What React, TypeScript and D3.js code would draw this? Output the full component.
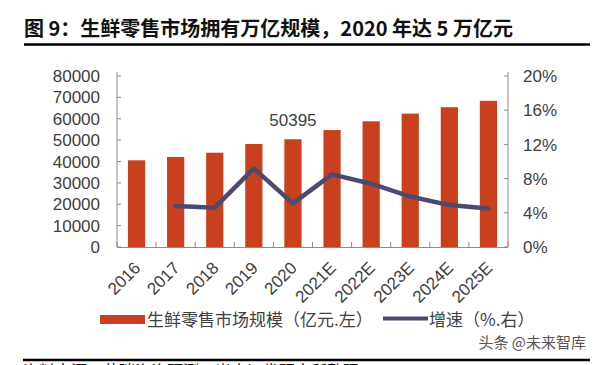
import React from 'react';
import * as d3 from 'd3';

const years = ['2016', '2017', '2018', '2019', '2020', '2021E', '2022E', '2023E', '2024E', '2025E'];
const marketSize = [40560, 42100, 44100, 48200, 50395, 54700, 58800, 62400, 65400, 68400];
const growthYears = ['2017', '2018', '2019', '2020', '2021E', '2022E', '2023E', '2024E', '2025E'];
const growth = [4.8, 4.6, 9.2, 5.1, 8.5, 7.4, 5.9, 4.9, 4.5];
const leftTicks = [0, 10000, 20000, 30000, 40000, 50000, 60000, 70000, 80000];
const rightTicks = [0, 4, 8, 12, 16, 20];

const BAR = '#c9401f';
const LINE = '#4b4b6f';
const AXIS = '#8c8c8c';
const TEXT = '#404040';
const NUM_FONT = '"Liberation Sans", Arial, sans-serif';
const CJK_FONT = '"Noto Sans CJK SC", "Noto Sans", sans-serif';

export default function App() {
  const width = 595;
  const height = 365;
  const plot = { left: 117, right: 508, top: 76, bottom: 247 };

  const x = d3.scaleBand<string>()
    .domain(years)
    .range([plot.left, plot.right])
    .paddingInner(0.56)
    .paddingOuter(0.28);
  const yL = d3.scaleLinear().domain([0, 80000]).range([plot.bottom, plot.top]);
  const yR = d3.scaleLinear().domain([0, 20]).range([plot.bottom, plot.top]);

  const cx = (c: string) => (x(c) ?? 0) + x.bandwidth() / 2;
  const line = d3.line<number>()
    .x((_, i) => cx(growthYears[i]))
    .y(d => yR(d));

  const step = x.step();
  const boundaries = d3.range(years.length + 1).map(i => plot.left + i * step);

  return (
    <svg width={width} height={height} style={{ position: 'absolute', left: 0, top: 0, background: '#fff' }}>
      {/* title */}
      <text x={24} y={36} fontFamily={CJK_FONT} fontWeight={700} fontSize={20} fill="#111">
        图 9：生鲜零售市场拥有万亿规模，2020 年达 5 万亿元
      </text>
      <line x1={24} x2={590} y1={44.5} y2={44.5} stroke="#000" strokeWidth={2.5} />

      {/* bars */}
      {marketSize.map((v, i) => (
        <rect key={years[i]} x={x(years[i])} y={yL(v)} width={x.bandwidth()}
          height={yL(0) - yL(v)} fill={BAR} />
      ))}
      <text x={cx('2020')} y={yL(50395) - 13} textAnchor="middle" fontFamily={NUM_FONT}
        fontSize={17} fill={TEXT}>50395</text>

      {/* growth line */}
      <path d={line(growth) ?? ''} fill="none" stroke={LINE} strokeWidth={4.5}
        strokeLinejoin="round" strokeLinecap="round" />

      {/* axes */}
      <g stroke={AXIS} strokeWidth={1} fill="none">
        <line x1={plot.left} x2={plot.left} y1={plot.top - 4} y2={plot.bottom} />
        <line x1={plot.right} x2={plot.right} y1={plot.top - 4} y2={plot.bottom} />
        <line x1={plot.left} x2={plot.right} y1={plot.bottom + 0.5} y2={plot.bottom + 0.5} />
        {leftTicks.map(t => (
          <line key={'l' + t} x1={plot.left} x2={plot.left + 4} y1={yL(t)} y2={yL(t)} />
        ))}
        {rightTicks.map(t => (
          <line key={'r' + t} x1={plot.right - 4} x2={plot.right} y1={yR(t)} y2={yR(t)} />
        ))}
        {boundaries.map((b, i) => (
          <line key={'b' + i} x1={b} x2={b} y1={plot.bottom - 5} y2={plot.bottom} />
        ))}
      </g>
      {leftTicks.map(t => (
        <text key={'lt' + t} x={plot.left - 17} y={yL(t)} dy="0.36em" textAnchor="end"
          fontFamily={NUM_FONT} fontSize={17} fill={TEXT}>{t}</text>
      ))}
      {rightTicks.map(t => (
        <text key={'rt' + t} x={plot.right + 15} y={yR(t)} dy="0.36em"
          fontFamily={NUM_FONT} fontSize={17} fill={TEXT}>{t}%</text>
      ))}
      {years.map(c => (
        <text key={'x' + c} transform={`translate(${cx(c) + 5},${plot.bottom + 22}) rotate(-45)`}
          textAnchor="end" fontFamily={NUM_FONT} fontSize={17} fill={TEXT}>{c}</text>
      ))}

      {/* legend */}
      <rect x={100} y={315} width={45} height={9} fill={BAR} />
      <text x={147} y={320} dy="0.36em" fontFamily={CJK_FONT} fontSize={17} fill={TEXT}>
        生鲜零售市场规模（亿元.左）
      </text>
      <line x1={383} x2={428} y1={318.5} y2={318.5} stroke={LINE} strokeWidth={4} />
      <text x={429} y={320} dy="0.36em" fontFamily={CJK_FONT} fontSize={17} fill={TEXT}>
        增速（%.右）
      </text>

      {/* watermark and source */}
      <text x={586} y={343} dy="0.36em" textAnchor="end" fontFamily={CJK_FONT} fontSize={15} fill="#555">
        头条 @未来智库
      </text>
      <line x1={23} x2={590} y1={360} y2={360} stroke="#000" strokeWidth={2.5} />
      <text x={23} y={377} fontFamily={CJK_FONT} fontSize={16} fill="#111">
        资料来源：艾瑞咨询预测，光大证券研究所整理
      </text>
    </svg>
  );
}
